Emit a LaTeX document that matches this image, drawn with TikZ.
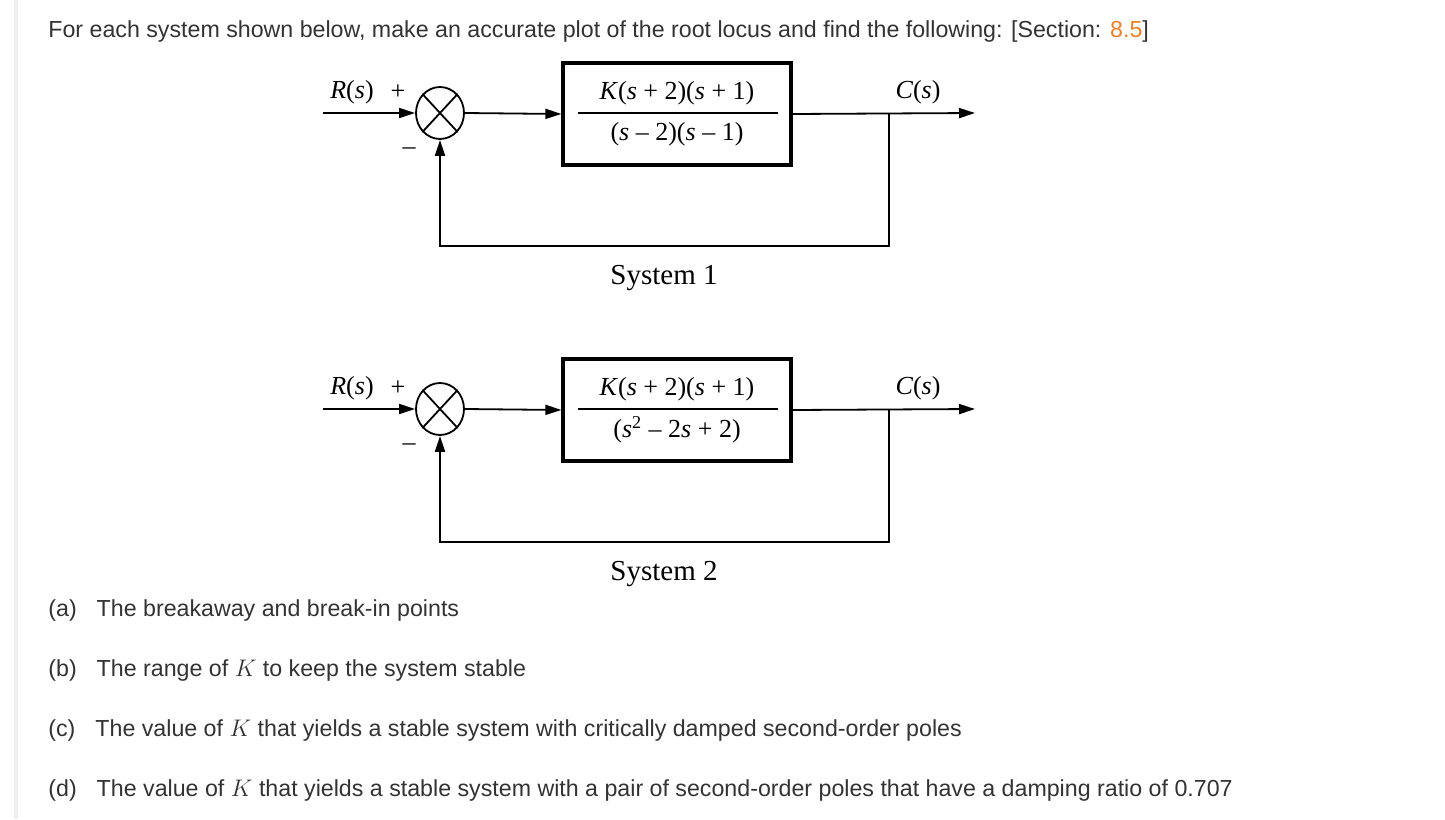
\documentclass[tikz,border=0pt]{standalone}
\usepackage{fontspec}
\setmainfont{Liberation Sans}
\newfontfamily\dia{Liberation Serif}
\usetikzlibrary{arrows.meta,shapes.geometric}
\definecolor{txt}{HTML}{333333}
\definecolor{org}{HTML}{E8832A}
\newcommand{\vi}[1]{\textit{#1}}
\begin{document}
\begin{tikzpicture}[x=0.5pt,y=-0.5pt,
  ln/.style={line width=0.9pt},
  arr/.style={ln,-{Triangle[length=8pt,width=5pt]}},
  blk/.style={draw,line width=1.6pt,minimum width=114pt,minimum height=51pt,inner sep=0pt},
  sumj/.style={draw,ellipse,line width=0.9pt,minimum width=24pt,minimum height=26pt,inner sep=0pt},
  lab/.style={font=\dia\fontsize{13}{15}\selectfont,inner sep=0pt},
  q/.style={anchor=base west,inner sep=0pt,text=txt,font=\fontsize{11.6}{14}\selectfont}]
\useasboundingbox (0,0) rectangle (1445,819);
\fill[white] (0,0) rectangle (1445,819);
\draw[gray!12,line width=2pt] (16,0) -- (16,819);
\node[q] (title) at (48,37) {For each system shown below, make an accurate plot of the root locus and find the following: [Section: \textcolor{org}{8.5}]};
\foreach \i/\dy/\den in {1/0/{(\vi{s} – 2)(\vi{s} – 1)},2/296/{(\vi{s}\textsuperscript{2} – 2\vi{s} + 2)}}{
  \begin{scope}[yshift=-\dy*0.5pt]
  \coordinate (in\i) at (323,113);
  \node[sumj] (s\i) at (440,113) {};
  \draw[ln] (s\i.north west) -- (s\i.south east) (s\i.north east) -- (s\i.south west);
  \node[blk] (b\i) at (677,114) {};
  \draw[ln] (578,113) -- (778,113);
  \node[lab] (n\i) at (677,93) {\vi{K}(\vi{s} + 2)(\vi{s} + 1)};
  \node[lab] (d\i) at (677,134) {\den};
  \coordinate (br\i) at (889,113);
  \coordinate (out\i) at (975,113);
  \coordinate (bl\i) at (889,246);
  \coordinate (bb\i) at (440,246);
  \draw[arr] (in\i) -- (s\i.west);
  \draw[arr] (s\i.east) -- (b\i.west);
  \draw[arr] (b\i.east) -- (out\i);
  \draw[arr] (br\i) -- (bl\i) -- (bb\i) -- (s\i.south);
  \node[lab] (r\i) at (352,92) {\vi{R}(\vi{s})};
  \node[lab] (p\i) at (398,92) {+};
  \node[lab] (m\i) at (409,151) {–};
  \node[lab] (c\i) at (918,92) {\vi{C}(\vi{s})};
  \node[lab,font=\dia\fontsize{14.5}{16}\selectfont] (sys\i) at (664,278) {System \i};
  \end{scope}}
\node[q] (qa) at (48,616) {(a)\hspace{10pt}The breakaway and break-in points};
\node[q] (qb) at (48,676) {(b)\hspace{10pt}The range of $K$ to keep the system stable};
\node[q] (qc) at (48,736) {(c)\hspace{10pt}The value of $K$ that yields a stable system with critically damped second-order poles};
\node[q] (qd) at (48,796) {(d)\hspace{10pt}The value of $K$ that yields a stable system with a pair of second-order poles that have a damping ratio of 0.707};
\end{tikzpicture}
\end{document}
